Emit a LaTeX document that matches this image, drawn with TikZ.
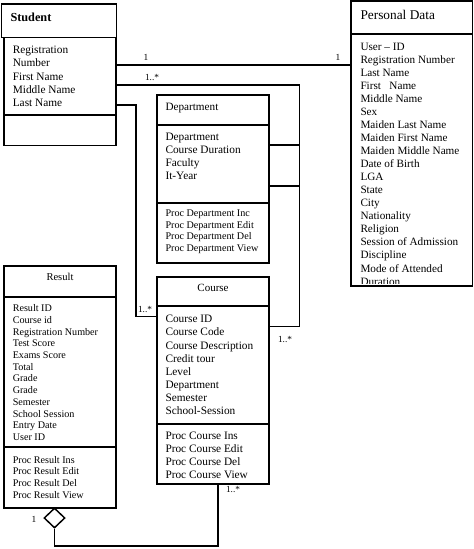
\documentclass[tikz,border=0pt]{standalone}
\usepackage{fontspec}
\setmainfont{Liberation Serif}
\usetikzlibrary{fit,shapes.geometric}

\tikzset{every picture/.style={line width=0.75pt}}
\tikzset{
  umlbox/.style={draw, line width=1.1pt, inner sep=0pt, rectangle},
  umlline/.style={line width=1.1pt},
  attrtext/.style={anchor=north west, inner sep=0pt, align=left, font=\fontsize{8.5}{9.79}\selectfont},
  smalltext/.style={anchor=north west, inner sep=0pt, align=left, font=\fontsize{7.6}{8.78}\selectfont},
  multtext/.style={anchor=base, inner sep=0pt, font=\fontsize{7}{8}\selectfont},
}

\begin{document}
\begin{tikzpicture}[x=0.75pt,y=0.75pt,yscale=-1,xscale=1]
	\useasboundingbox (0,0) rectangle (474,549);

	%Shape: Rectangle [Student]
	\node [umlbox, fit={(1.5,4) (116.5,37.5)}] (stuHead) {};
	\node [umlbox, fit={(4,37.5) (116,115)}] (stuAttr) {};
	\node [umlbox, fit={(4,115) (116,145.5)}] (stuOps) {};
	%Shape: Rectangle [Personal Data]
	\node [umlbox, fit={(351,1) (472.5,34)}] (perHead) {};
	\node [umlbox, fit={(351,34) (472.5,286)}] (perAttr) {};
	%Shape: Rectangle [Department]
	\node [umlbox, fit={(157,95) (269,125)}] (depHead) {};
	\node [umlbox, fit={(157,125) (269,203)}] (depAttr) {};
	\node [umlbox, fit={(157,203) (269,263)}] (depOps) {};
	%Shape: Rectangle [Course]
	\node [umlbox, fit={(157,277) (269,306)}] (crsHead) {};
	\node [umlbox, fit={(157,306) (269,424)}] (crsAttr) {};
	\node [umlbox, fit={(157,424) (269,484)}] (crsOps) {};
	%Shape: Rectangle [Result]
	\node [umlbox, fit={(4,266) (116,297)}] (resHead) {};
	\node [umlbox, fit={(4,297) (116,447)}] (resAttr) {};
	\node [umlbox, fit={(4,447) (116,508)}] (resOps) {};
	%Shape: Diamond
	\node [draw, diamond, line width=1.1pt, inner sep=0pt, minimum width=15.75pt, minimum height=15pt] (agg) at (54.5,518) {};

	%Straight Lines
	\coordinate (bus) at (299.5,85);
	\draw [umlline] (stuAttr.east |- 0,65) -- (perAttr.west |- 0,65);
	\draw [umlline] (stuAttr.east |- bus) -- (bus) |- (crsAttr.east |- 0,326.7);
	\draw [umlline] (depAttr.east |- 0,145) -- (bus |- 0,145);
	\draw [umlline] (depAttr.east |- 0,186) -- (bus |- 0,186);
	\draw [umlline] (stuAttr.east |- 0,105) -- (136,105) |- (crsAttr.west |- 0,316.7);
	\draw [umlline] (agg.south) -- (54.5,546) -| (crsOps.south -| 218,0);

	% Text Node
	\draw (10,21.3) node [anchor=base west, inner sep=0pt, font=\fontsize{9.2}{11}\selectfont\bfseries] (stuTitle) {Student};
	% Text Node
	\draw (12.3,45.9) node [attrtext] (stuTxt) {Registration\\Number\\First Name\\Middle Name\\Last Name};
	% Text Node
	\draw (360,19.3) node [anchor=base west, inner sep=0pt, font=\fontsize{10}{12}\selectfont] (perTitle) {Personal Data};
	% Text Node
	\begin{scope}
	\clip (351,34) rectangle (472.5,283);
	\draw (360,42.3) node [attrtext, font=\fontsize{8.4}{9.79}\selectfont] (perTxt) {User – ID\\Registration Number\\Last Name\\First~~~Name\\Middle Name\\Sex\\Maiden Last Name\\Maiden First Name\\Maiden Middle Name\\Date of Birth\\LGA\\State\\City\\Nationality\\Religion\\Session of Admission\\Discipline\\Mode of Attended\\Duration};
	\end{scope}
	% Text Node
	\draw (165,110.2) node [anchor=base west, inner sep=0pt, font=\fontsize{8.4}{10}\selectfont] (depTitle) {Department};
	% Text Node
	\draw (165,132.4) node [attrtext] (depTxt) {Department\\Course Duration\\Faculty\\It-Year};
	% Text Node
	\draw (165,209.2) node [smalltext] (depOpsTxt) {Proc Department Inc\\Proc Department Edit\\Proc Department Del\\Proc Department View};
	% Text Node
	\draw (213,291.5) node [anchor=base, inner sep=0pt, font=\fontsize{8.25}{10}\selectfont] (crsTitle) {Course};
	% Text Node
	\draw (165,314.9) node [attrtext] (crsTxt) {Course ID\\Course Code\\Course Description\\Credit tour\\Level\\Department\\Semester\\School-Session};
	% Text Node
	\draw (165,431.2) node [attrtext] (crsOpsTxt) {Proc Course Ins\\Proc Course Edit\\Proc Course Del\\Proc Course View};
	% Text Node
	\draw (60,280.4) node [anchor=base, inner sep=0pt, font=\fontsize{7.9}{9.5}\selectfont] (resTitle) {Result};
	% Text Node
	\draw (12.3,304.2) node [smalltext] (resTxt) {Result ID\\Course id\\Registration Number\\Test Score\\Exams Score\\Total\\Grade\\Grade\\Semester\\School Session\\Entry Date\\User ID};
	% Text Node
	\draw (12.3,455.7) node [smalltext] (resOpsTxt) {Proc Result Ins\\Proc Result Edit\\Proc Result Del\\Proc Result View};

	% Text Node
	\draw (146,60.5) node [multtext] (mStuPer) {1};
	% Text Node
	\draw (338,60.5) node [multtext] (mPerStu) {1};
	% Text Node
	\draw (152,80.7) node [multtext] (mStuCrs) {1..*};
	% Text Node
	\draw (285,342.3) node [multtext] (mCrsStu) {1..*};
	% Text Node
	\draw (145,312.7) node [multtext] (mCrsLeft) {1..*};
	% Text Node
	\draw (34,522.3) node [multtext] (mRes) {1};
	% Text Node
	\draw (233,492.3) node [multtext] (mCrsRes) {1..*};

\end{tikzpicture}
\end{document}
